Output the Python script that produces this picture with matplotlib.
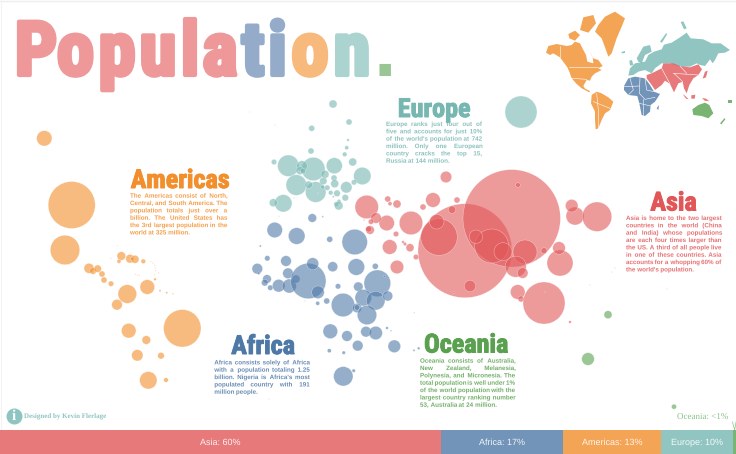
import matplotlib
matplotlib.use("Agg")
import matplotlib.pyplot as plt
import matplotlib.patheffects as pe

plt.rcParams["text.hinting"] = "no_hinting"
plt.rcParams["text.hinting_factor"] = 1

RED = "#E15759"
BLUE = "#4E79A7"
ORANGE = "#F28E2B"
TEAL = "#76B7B2"
GREEN = "#59A14F"

HEAD_FONT = "Roboto Condensed"
BODY_FONT = "Liberation Sans"
SERIF_FONT = "Liberation Serif"

# bubbles: x, y, radius in picture pixels
asia_x = [465, 511.7, 439, 491.7, 525, 515.7, 503, 476, 436.7, 544, 560, 559, 575, 571.7, 597, 517.7, 521, 522.7, 544, 470, 518, 454, 570, 545, 446, 433, 457, 452, 423, 411, 396, 389.7, 410, 403, 405, 416, 397, 366.7, 386.7, 376, 371, 370, 368.7, 387.7, 390, 397, 364]
asia_y = [250.7, 218.3, 237, 246, 252, 266.7, 251.7, 236.7, 221.7, 303, 263, 248, 216, 205.7, 216.7, 292, 299, 273, 250.7, 286, 185, 292.7, 322, 292, 177, 200, 200, 209.7, 207, 223, 234, 247, 247.7, 242, 244, 257, 267, 207, 223, 218, 221.7, 230, 229, 199, 203.7, 204, 220]
asia_r = [47, 48.7, 18.3, 17, 12, 10.5, 9, 6.7, 7.3, 21, 13, 6.3, 9, 6.3, 14.7, 7.3, 3, 5.3, 3, 5.7, 2.3, 1, 1.3, 0.5, 5.7, 7.3, 3, 3.7, 3, 11.7, 2.7, 7.3, 4, 1.3, 1.7, 2.7, 6.7, 11.7, 7.7, 5.3, 2.7, 4.3, 3, 3, 2, 4, 0.7]

europe_x = [521, 333, 349, 311.7, 348, 311, 346.7, 344.7, 352.7, 274, 288.3, 313.3, 334.3, 302, 300, 303, 296.3, 315.7, 325, 323.3, 334, 334.7, 362.3, 354, 346.3, 327.3, 322.7, 308.7, 330.7, 337, 345.3, 333.3, 339, 336, 338.7, 283.3, 273.3, 322.7, 279, 294, 275, 318, 250]
europe_y = [112, 104, 122, 128.3, 140, 151, 147.7, 154.3, 162, 162, 165.7, 169, 165.7, 166, 170.7, 171, 185, 192, 174.3, 181, 178, 183.7, 176, 182.3, 187.3, 187.7, 187, 184.7, 192.7, 193.3, 197.7, 196.7, 201.3, 204, 205.7, 203.3, 202.7, 216.7, 216.3, 198, 125, 193.3, 112]
europe_r = [16, 4, 3, 3, 1.3, 3, 2, 2.3, 4, 2.7, 10.7, 11.7, 8, 5.3, 4, 2.7, 10.3, 10.3, 4, 3.7, 3, 4, 8.7, 2.7, 5.7, 2.7, 2, 3.7, 2.3, 3.3, 3.3, 1, 2, 2.3, 4.3, 8.7, 4, 1, 0.5, 0.5, 0.4, 0.5, 0.4]

africa_x = [274.7, 296.7, 312.3, 329.7, 354.7, 260.3, 286, 267.3, 257.3, 258.7, 267, 264.7, 270.3, 278.7, 289.3, 288, 296, 308.3, 312.7, 318, 332.7, 338, 326.7, 317.7, 356.3, 375.3, 377.3, 384.7, 358.3, 363.3, 375.7, 387.7, 343, 357, 357, 367, 330.3, 347, 366, 375.7, 387, 391, 357.7, 394.3, 329.3, 343.7, 343.3, 353.7, 414, 418.7, 414.3, 269, 305]
africa_y = [230, 236, 218, 239.3, 242, 246, 261, 258.3, 268.7, 273.3, 279, 282.7, 287.7, 285.7, 286, 273.3, 279, 281, 263.7, 292.3, 266.7, 286.3, 301, 303.3, 267, 266.3, 283.3, 276.3, 286.7, 297.7, 300.7, 296, 305, 308, 307.5, 315, 331.3, 336, 331.7, 333, 328, 330.7, 345.7, 346.3, 350.7, 352.7, 376.3, 370.7, 350.3, 348.3, 312.7, 399, 301]
africa_r = [7.7, 8.3, 4.3, 3, 12.7, 1, 5.3, 2.7, 5.3, 1.3, 4.3, 3.3, 2.7, 6.3, 7, 5.3, 4, 17.7, 6, 6.3, 5, 2.7, 3, 2, 8.3, 3, 13.3, 1, 4.7, 8.3, 9.3, 5, 11.7, 4.7, 2.7, 9.7, 7.3, 5.3, 5.3, 6.7, 1.3, 0.7, 5.3, 6.3, 2, 1.7, 9.7, 1.7, 1, 1.3, 0.5, 0.4, 0.4]

americas_x = [44.3, 71.7, 65, 89, 93, 97.7, 102, 104, 111, 127.3, 147.3, 117, 121.3, 119, 130, 135, 143.3, 132.3, 155, 160, 166.7, 173, 182.3, 128.7, 146.3, 137.3, 161, 148.3, 166, 117.3, 110.7, 150.7, 153, 154.7, 155.3, 155.7, 154.7, 158.7, 135.3, 137.3, 139.3, 131.7]
americas_y = [138.3, 205, 250, 268.3, 271, 268.7, 274, 280, 283.7, 294, 287, 304.7, 256, 261.3, 258.7, 259.3, 261.3, 258.7, 279.3, 290.7, 292.7, 293.7, 328.3, 330.7, 340, 355.3, 355.7, 380.3, 380, 245.7, 258.3, 261.3, 263, 265.3, 268, 270.7, 274.7, 273, 274.3, 275, 275.3, 252.7]
americas_r = [7.7, 23.5, 14.7, 5, 3.3, 3.7, 3, 3, 2.7, 9.3, 7.3, 5.3, 4.3, 2, 4.3, 4, 2.3, 1.7, 1.3, 1, 1, 0.7, 18.7, 7.3, 4.3, 5.7, 3.3, 8.7, 2.3, 0.4, 0.5, 0.5, 0.5, 0.5, 0.5, 0.5, 0.5, 0.5, 0.5, 0.5, 0.5, 0.4]

oceania_x = [588, 608, 674, 615, 612, 590, 667]
oceania_y = [359, 314.7, 406.7, 268, 272, 285, 289]
oceania_r = [6.3, 4, 2.5, 0.4, 0.4, 0.4, 0.4]

# bottom bar
share_labels = ["Asia: 60%", "Africa: 17%", "Americas: 13%", "Europe: 10%", ""]
share_values = [59.9, 16.6, 13.3, 9.85, 0.35]
share_colors = [RED, BLUE, ORANGE, TEAL, GREEN]

# title
title_letters = ["P", "o", "p", "u", "l", "a", "t", "i", "o", "n"]
title_centers = [36, 75.5, 117, 158, 190, 220, 253, 277.5, 310, 352]
title_colors = ["#EF9899"] * 6 + ["#94ACC9", "#94ACC9", "#F8B97C", "#ABD3CF"]

americas_lines = ["The Americas consist of North,", "Central, and South America. The", "population totals just over a", "billion. The United States has", "the 3rd largest population in the", "world at 325 million."]
europe_lines = ["Europe ranks just four out of", "five and accounts for just 10%", "of the world's population at 742", "million. Only one European", "country cracks the top 15,", "Russia at 144 million."]
asia_lines = ["Asia is home to the two largest", "countries in the world (China", "and India) whose populations", "are each four times larger than", "the US. A third of all people live", "in one of these countries. Asia", "accounts for a whopping 60% of", "the world's population."]
africa_lines = ["Africa consists solely of Africa", "with a population totaling 1.25", "billion. Nigeria is Africa's most", "populated country with 191", "million people."]
oceania_lines = ["Oceania consists of Australia,", "New Zealand, Melanesia,", "Polynesia, and Micronesia. The", "total population is well under 1%", "of the world population with the", "largest country ranking number", "53, Australia at 24 million."]

# world map outlines, in units of the map inset
north_america = [(48, 128), (55, 108), (80, 102), (110, 108), (125, 105), (135, 95), (150, 100), (160, 120), (168, 135), (172, 155), (190, 160), (188, 140), (178, 122), (190, 145), (205, 150), (218, 168), (205, 175), (215, 180), (195, 190), (185, 200), (180, 212), (170, 210), (160, 228), (165, 236), (180, 243), (178, 247), (155, 235), (140, 222), (125, 205), (118, 185), (112, 172), (90, 142), (70, 130), (60, 135)]
arctic_a = [(115, 72), (135, 62), (150, 75), (135, 92), (118, 85)]
arctic_b = [(160, 22), (190, 15), (198, 40), (175, 68), (150, 60)]
greenland = [(205, 45), (225, 20), (255, 5), (285, 25), (275, 50), (260, 85), (245, 130), (235, 140), (228, 120), (215, 85), (195, 65)]
south_america = [(185, 255), (200, 245), (215, 250), (235, 262), (250, 275), (240, 300), (225, 310), (215, 330), (205, 355), (197, 358), (195, 330), (195, 305), (183, 280)]
africa_map = [(282, 228), (295, 205), (315, 200), (345, 205), (360, 225), (372, 245), (390, 252), (375, 275), (362, 285), (360, 305), (345, 318), (335, 315), (328, 280), (322, 258), (295, 255), (282, 240)]
madagascar = [(380, 295), (387, 285), (385, 300)]
russia = [(355, 135), (372, 125), (395, 118), (402, 104), (425, 98), (450, 82), (470, 68), (482, 85), (520, 88), (545, 100), (572, 100), (600, 120), (585, 128), (565, 130), (555, 150), (548, 160), (540, 148), (525, 168), (510, 165), (500, 160), (480, 170), (450, 170), (420, 160), (395, 160), (375, 175), (365, 190), (345, 180), (325, 185), (310, 195), (295, 197), (300, 175), (315, 160), (345, 155)]
scandinavia = [(320, 145), (340, 110), (360, 105), (365, 125), (345, 135), (335, 160), (325, 155)]
uk = [(298, 152), (306, 150), (310, 165), (300, 167)]
iceland = [(274, 126), (285, 123), (285, 129), (276, 130)]
novaya = [(390, 95), (408, 70), (412, 72), (396, 98)]
svalbard = [(452, 36), (460, 34), (470, 55), (462, 58)]
asia_map = [(350, 195), (365, 190), (395, 175), (400, 160), (430, 160), (450, 168), (480, 172), (505, 163), (516, 178), (505, 195), (490, 205), (478, 225), (470, 250), (462, 235), (458, 215), (445, 220), (432, 247), (420, 222), (405, 212), (395, 225), (375, 240), (365, 225), (350, 205)]
japan = [(525, 185), (533, 182), (528, 202), (518, 206)]
sumatra = [(458, 252), (466, 258), (476, 268), (468, 266)]
borneo = [(484, 256), (496, 254), (494, 266), (484, 266)]
papua = [(516, 264), (528, 266), (538, 274), (524, 272)]
australia = [(487, 298), (505, 285), (525, 278), (538, 285), (550, 310), (535, 325), (515, 318), (490, 315)]
new_zealand = [(570, 340), (584, 324), (586, 328), (574, 343)]
pacific_dot = [(595, 270), (605, 270), (605, 278), (595, 278)]
africa_borders = [[(300, 205), (310, 240), (295, 255)], [(330, 203), (328, 250), (345, 268), (375, 262)], [(345, 205), (350, 240), (372, 245)], [(282, 230), (328, 228)], [(340, 268), (340, 315)], [(328, 280), (362, 288)]]
america_borders = [[(90, 108), (90, 142)], [(118, 172), (190, 172), (205, 172)], [(125, 205), (170, 208)], [(200, 250), (205, 300), (205, 355)], [(190, 275), (240, 295)]]
asia_borders = [[(395, 175), (420, 222)], [(430, 190), (505, 195)], [(450, 168), (470, 190)], [(432, 190), (458, 215)]]


def draw_bubbles(ax, xs, ys, rs, color):
    # radius is in pixels, scatter wants points squared
    sizes = [(2 * r * 72 / 100) ** 2 for r in rs]
    ax.scatter(xs, ys, s=sizes, color=color, alpha=0.6, edgecolors="white", linewidths=0.3, zorder=2)


def justified(ax, lines, x0, x1, y0, color, step=7.35, size=4.5):
    renderer = ax.figure.canvas.get_renderer()
    # a path effect makes agg draw the glyphs as paths, so words keep one baseline
    effects = [pe.Normal()]
    for i, line in enumerate(lines):
        y = y0 + 1.7 + i * step
        words = line.split(" ")
        items = [ax.text(x0, y, w, color=color, fontsize=size, fontweight="bold", family=BODY_FONT, va="baseline", ha="left", zorder=4, alpha=0.85, path_effects=effects) for w in words]
        widths = [t.get_window_extent(renderer).width for t in items]
        if i == len(lines) - 1 or len(words) == 1:
            gap = size * 0.5
        else:
            gap = (x1 - x0 - sum(widths)) / (len(words) - 1)
        x = x0
        for t, w in zip(items, widths):
            t.set_x(x)
            x += w + gap


def heading(ax, x, y, label, color, size=18.8, stroke=0.7):
    ax.text(x, y, label, color=color, fontsize=size, fontweight="bold", family=HEAD_FONT, ha="center", va="baseline", zorder=4,
            path_effects=[pe.withStroke(linewidth=stroke, foreground=color)])


def draw_map(fig):
    # inset covers x 530-736, y 10-140 of the picture
    m = fig.add_axes([530 / 736, 1 - 140 / 454, 206 / 736, 130 / 454])
    m.set_xlim(0, 618)
    m.set_ylim(390, 0)
    m.axis("off")
    groups = [
        (ORANGE, [north_america, arctic_a, arctic_b, greenland, south_america]),
        (BLUE, [africa_map, madagascar]),
        (TEAL, [russia, scandinavia, uk, iceland, novaya, svalbard]),
        (RED, [asia_map, japan, sumatra, borneo, papua]),
        (GREEN, [australia, new_zealand, pacific_dot]),
    ]
    for color, shapes in groups:
        for shape in shapes:
            xs, ys = zip(*shape)
            m.fill(xs, ys, color=color, alpha=0.8, lw=0)
    for line in africa_borders + america_borders + asia_borders:
        xs, ys = zip(*line)
        m.plot(xs, ys, color="white", lw=0.4)


def main():
    fig = plt.figure(figsize=(7.36, 4.54), dpi=100)
    fig.canvas.get_renderer()
    ax = fig.add_axes([0, 0, 1, 1])
    ax.set_xlim(0, 736)
    ax.set_ylim(454, 0)
    ax.axis("off")

    ax.plot([0, 736], [0.5, 0.5], color="#eeeeee", lw=1)
    ax.plot([0.5, 0.5], [0, 430], color="#f3f3f3", lw=0.8)

    draw_bubbles(ax, asia_x, asia_y, asia_r, RED)
    draw_bubbles(ax, europe_x, europe_y, europe_r, TEAL)
    draw_bubbles(ax, africa_x, africa_y, africa_r, BLUE)
    draw_bubbles(ax, americas_x, americas_y, americas_r, ORANGE)
    draw_bubbles(ax, oceania_x, oceania_y, oceania_r, GREEN)

    for letter, cx, color in zip(title_letters, title_centers, title_colors):
        ax.text(cx, 75, letter, color=color, fontsize=54, fontweight="bold", family=HEAD_FONT, ha="center", va="baseline", zorder=3,
                path_effects=[pe.withStroke(linewidth=3, foreground=color)])
    # Liberation has the square full stop
    ax.text(385, 75.5, ".", color="#9AC595", fontsize=58, fontweight="bold", family=BODY_FONT, ha="center", va="baseline", zorder=3)

    heading(ax, 180, 188, "Americas", ORANGE)
    heading(ax, 434, 117, "Europe", TEAL)
    heading(ax, 673.5, 210.5, "Asia", RED)
    heading(ax, 263, 354, "Africa", BLUE)
    heading(ax, 466, 352.5, "Oceania", GREEN)

    justified(ax, americas_lines, 130, 227, 196, ORANGE)
    justified(ax, europe_lines, 386, 481.7, 124.3, TEAL)
    justified(ax, asia_lines, 626, 721, 218.3, RED)
    justified(ax, africa_lines, 214.3, 309.3, 362.7, BLUE)
    justified(ax, oceania_lines, 420, 514.7, 361, GREEN)

    # info mark and credits
    ax.scatter([14], [415.7], s=(2 * 8 * 0.72) ** 2, color="#8FC5C0", lw=0, zorder=3)
    ax.text(14, 416, "i", color="white", fontsize=11, fontweight="bold", family=SERIF_FONT, ha="center", va="center", zorder=4)
    ax.text(23.5, 416.5, "Designed by Kevin Flerlage", color="#8FC5C0", fontsize=5.2, fontweight="bold", family=SERIF_FONT, ha="left", va="center")
    ax.text(703, 418, "Oceania: <1%", color="#8CC088", fontsize=6.6, family=SERIF_FONT, ha="center", va="center")
    ax.plot([732.5, 734.7, 736], [422, 430, 422], color="#8CC088", lw=0.5)

    draw_map(fig)

    # share bar along the bottom
    bar = fig.add_axes([0, 0, 1, 24 / 454])
    bar.set_xlim(0, sum(share_values))
    bar.set_ylim(0, 1)
    bar.axis("off")
    left = 0
    for label, value, color in zip(share_labels, share_values, share_colors):
        bar.barh(0.5, value, left=left, height=1, color=color, alpha=0.8, lw=0)
        if label:
            bar.text(left + value / 2, 0.48, label, color="white", fontsize=6.6, family=BODY_FONT, ha="center", va="center", alpha=0.9)
        left += value

    fig.savefig("out.png", dpi=100)
    plt.close(fig)


if __name__ == "__main__":
    main()
